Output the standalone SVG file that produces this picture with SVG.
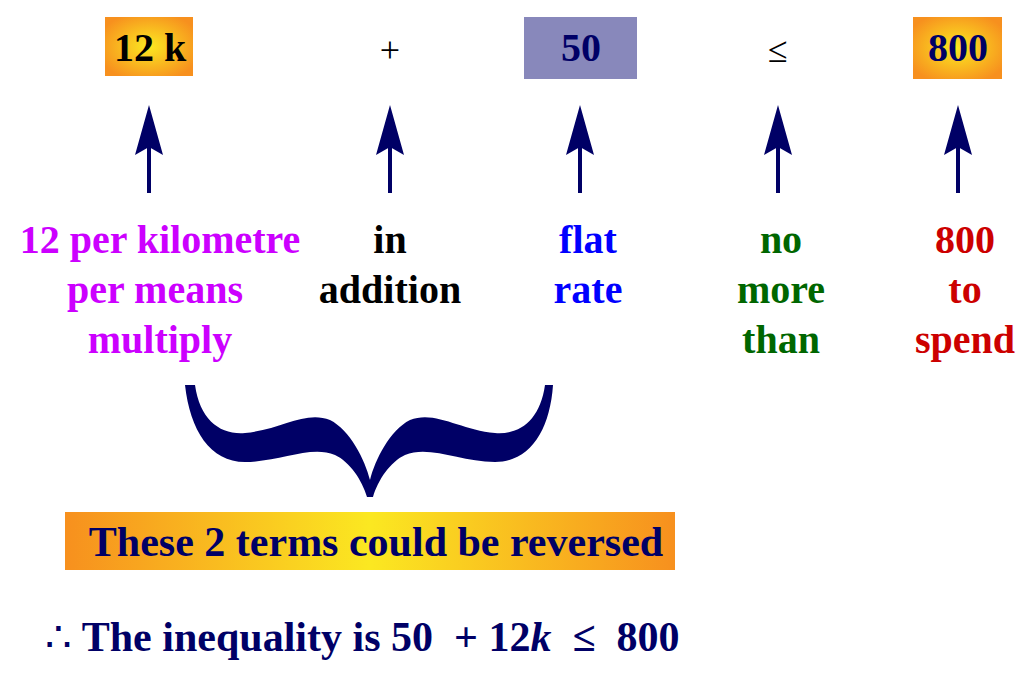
<svg xmlns="http://www.w3.org/2000/svg" width="1032" height="677" viewBox="0 0 1032 677">
<style>
text{font-family:"Liberation Serif",serif;font-weight:bold;text-anchor:middle}
.l{font-size:40px}
.arr{stroke:#000066;stroke-width:4;fill:none}
</style>
<defs>
<radialGradient id="g" cx="50%" cy="50%" r="60%"><stop offset="0" stop-color="#fbe821"/><stop offset="1" stop-color="#f7901e"/></radialGradient>
<linearGradient id="gb" x1="0" x2="1"><stop offset="0" stop-color="#f7901e"/><stop offset="0.5" stop-color="#fbe821"/><stop offset="1" stop-color="#f7901e"/></linearGradient>
<path id="ah" d="M0,-50 L14,0 L0,-8 L-14,0 Z" fill="#000066"/>
</defs>
<rect width="1032" height="677" fill="#fff"/>
<g id="n12k"><rect x="105" y="17" width="88" height="59" fill="url(#g)"/><text x="150" y="61" font-size="40" fill="#000">12 k</text></g>
<g id="plus"><text x="390" y="62" font-size="36" fill="#000" style="font-weight:normal">+</text></g>
<g id="n50"><rect x="524" y="17" width="113" height="62" fill="#8888bb"/><text x="581" y="61" font-size="40" fill="#000066">50</text></g>
<g id="le"><text x="778" y="62" font-size="36" fill="#000" style="font-weight:normal">≤</text></g>
<g id="n800"><rect x="913" y="17" width="89" height="62" fill="url(#g)"/><text x="958" y="61" font-size="40" fill="#000066">800</text></g>
<g id="connectors">
<line class="arr" x1="149" y1="193" x2="149" y2="140"/><use href="#ah" x="149" y="155"/>
<line class="arr" x1="390" y1="193" x2="390" y2="140"/><use href="#ah" x="390" y="155"/>
<line class="arr" x1="580" y1="193" x2="580" y2="140"/><use href="#ah" x="580" y="155"/>
<line class="arr" x1="778" y1="193" x2="778" y2="140"/><use href="#ah" x="778" y="155"/>
<line class="arr" x1="958" y1="193" x2="958" y2="140"/><use href="#ah" x="958" y="155"/>
</g>
<g id="t1" fill="#cc00ff"><text class="l" x="160" y="253">12 per kilometre</text><text class="l" x="155" y="303">per means</text><text class="l" x="160" y="353">multiply</text></g>
<g id="t2" fill="#000"><text class="l" x="390" y="253">in</text><text class="l" x="390" y="303">addition</text></g>
<g id="t3" fill="#0000ff"><text class="l" x="588" y="253">flat</text><text class="l" x="588" y="303">rate</text></g>
<g id="t4" fill="#006600"><text class="l" x="781" y="253">no</text><text class="l" x="781" y="303">more</text><text class="l" x="781" y="353">than</text></g>
<g id="t5" fill="#cc0000"><text class="l" x="965" y="253">800</text><text class="l" x="965" y="303">to</text><text class="l" x="965" y="353">spend</text></g>
<g id="brace"><path fill="#000066" d="M185,385 L195,385 C200,420 220,435 245,433 C280,430 305,410 330,420 C350,430 365,460 370,480 C375,460 390,430 410,420 C435,410 460,430 495,433 C520,435 540,420 545,385 L553,385 C550,430 530,462 495,462 C460,462 430,445 405,455 C390,462 378,480 373,497 L367,497 C362,480 350,462 335,455 C310,445 280,462 245,462 C210,462 190,430 185,385 Z"/></g>
<g id="banner"><rect x="65" y="512" width="610" height="58" fill="url(#gb)"/><text x="376" y="556" font-size="42" fill="#000066">These 2 terms could be reversed</text></g>
<g id="result"><text x="45" y="651" font-size="42" fill="#000066" style="text-anchor:start;white-space:pre"><tspan style="font-weight:normal">∴</tspan> The inequality is 50  + 12<tspan font-style="italic">k</tspan>  ≤  800</text></g>
</svg>
